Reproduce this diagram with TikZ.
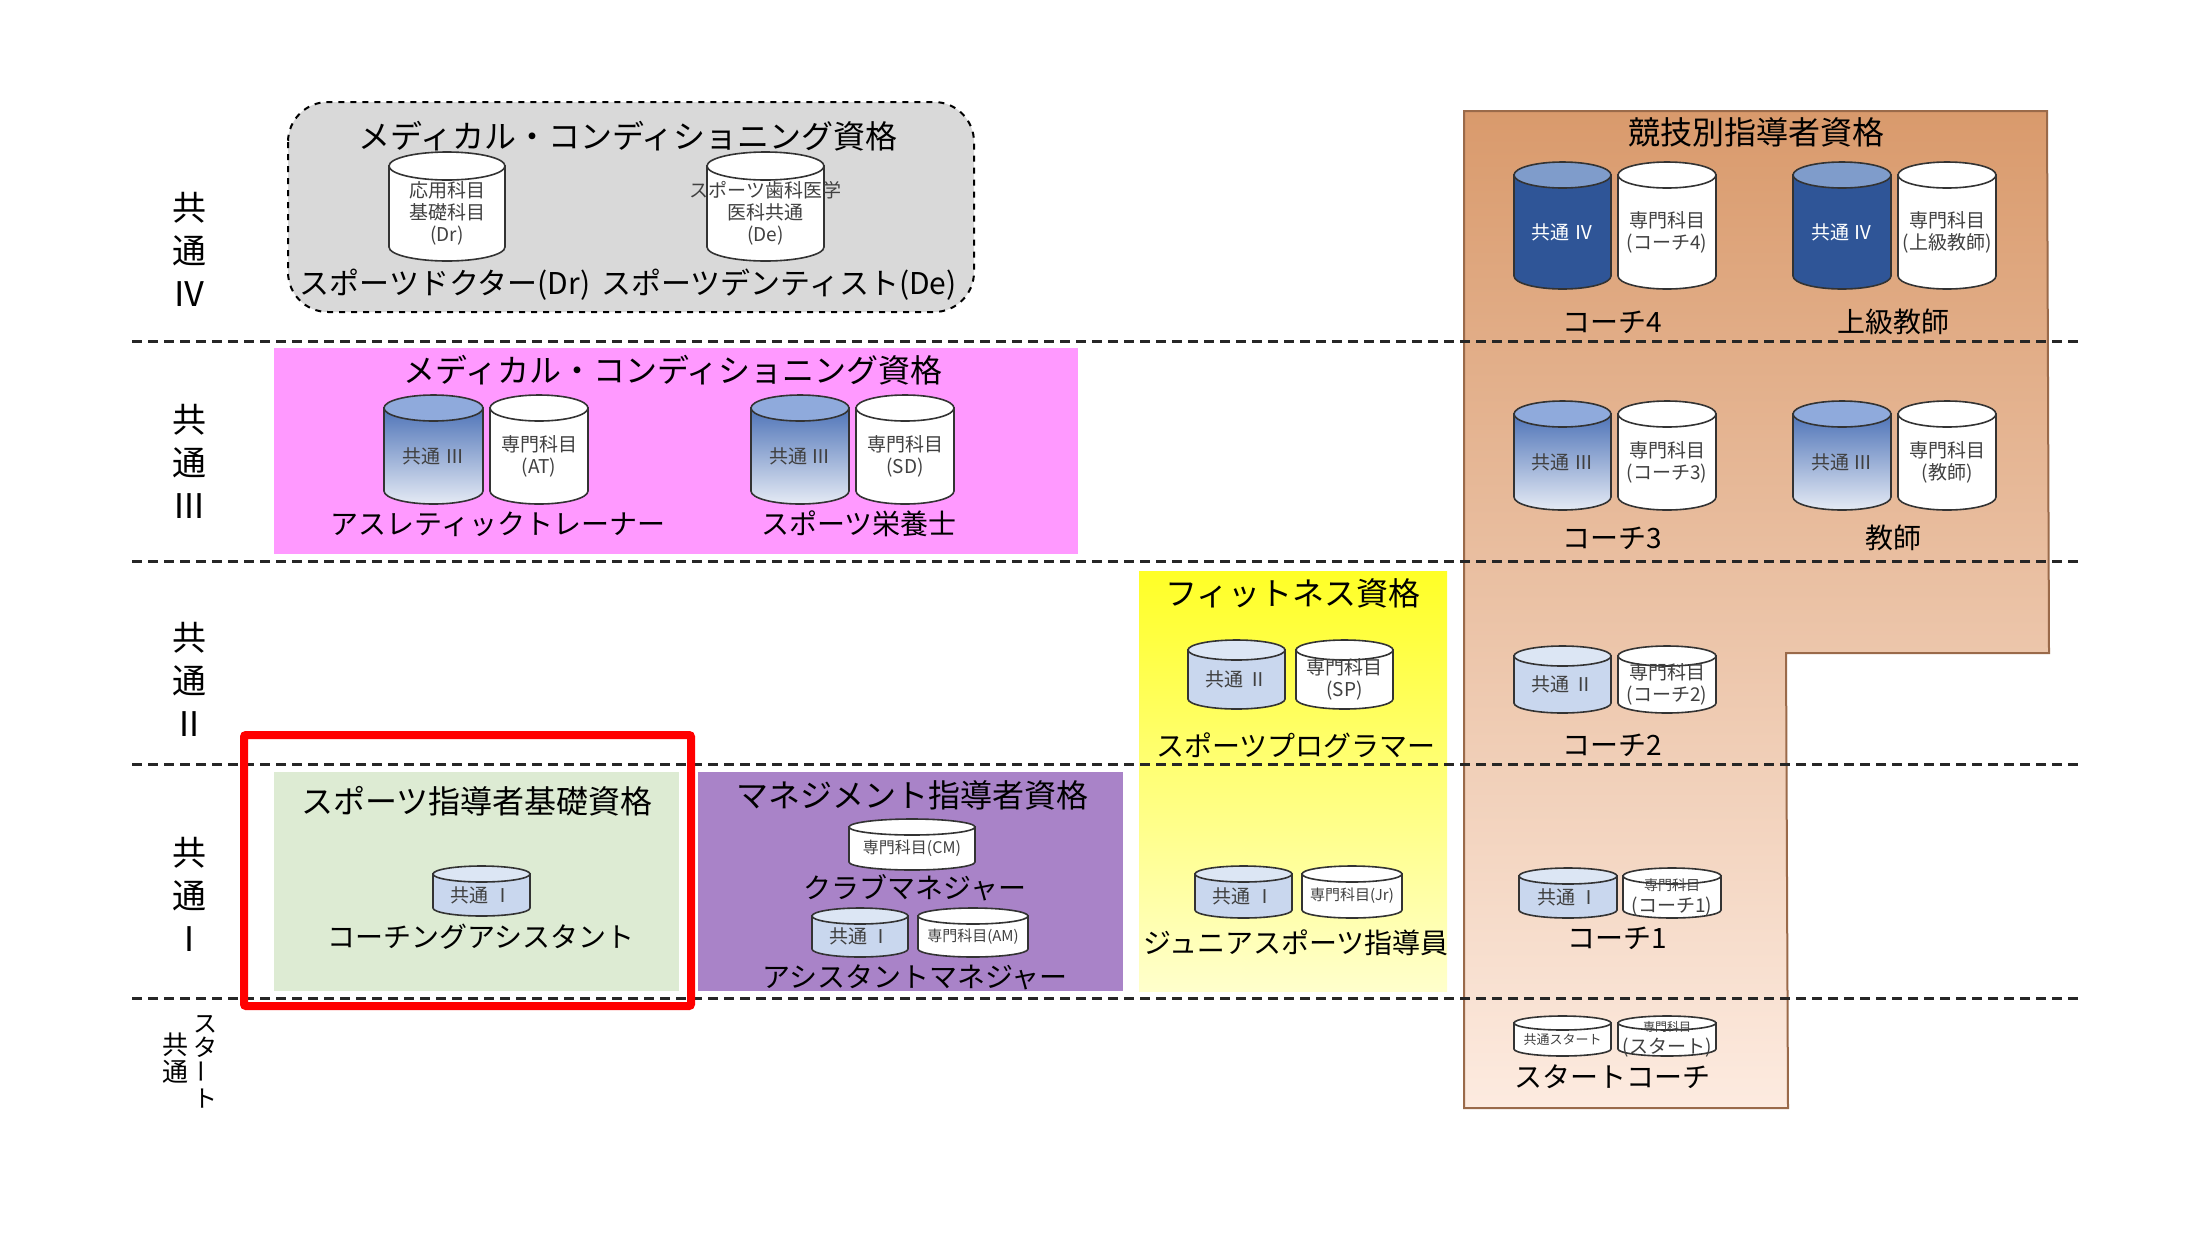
\documentclass[tikz,border=0pt]{standalone}
\usepackage{fontspec}
\setmainfont{Noto Sans CJK JP}
\usepackage{graphicx}
\definecolor{grayf}{HTML}{D9D9D9}
\definecolor{pinkf}{HTML}{FF99FF}
\definecolor{greenf}{HTML}{DDEBD3}
\definecolor{purplef}{HTML}{A983C8}
\definecolor{dblue}{HTML}{2F5597}
\definecolor{dbluetop}{HTML}{7F9CCB}
\definecolor{mblue}{HTML}{4F74B8}
\definecolor{mbluetop}{HTML}{8FAADC}
\definecolor{lblue}{HTML}{C9D7EE}
\definecolor{lbluetop}{HTML}{DCE6F4}
\definecolor{orgtop}{HTML}{D99A6C}
\definecolor{orgbot}{HTML}{FDEBE0}
\definecolor{orgline}{HTML}{9A6A4A}
\newcommand\cyl[9]{%
 \pgfmathsetmacro\cx{(#2+#3)/2}\pgfmathsetmacro\rx{(#3-#2)/2}%
 \pgfmathsetmacro\yt{#4+#6}\pgfmathsetmacro\yb{#5-#6}%
 \path[cylbody,#7] (#2,\yt) -- (#2,\yb) arc[start angle=180,end angle=0,x radius=\rx,y radius=#6] -- (#3,\yt) -- cycle;
 \path[cylbody,#8] (\cx,\yt) ellipse[x radius=\rx,y radius=#6];
 \node[cyltext] (#1) at (\cx,{(\yt+#5)/2}) {#9};}
\tikzset{
 cylbody/.style={draw=black!80,line width=0.8pt,fill=white},
 cyltext/.style={align=center,inner sep=0pt,font=\fontsize{9.5}{11}\selectfont,text=black!75},
 c4/.style={fill=dblue}, c4t/.style={fill=dbluetop},
 c3/.style={top color=mblue,bottom color=white!85!mblue}, c3t/.style={fill=mbluetop},
 c1/.style={fill=lblue}, c1t/.style={fill=lbluetop},
 wt/.style={fill=white},
 title/.style={font=\fontsize{16}{18}\selectfont,inner sep=0pt},
 lab/.style={font=\fontsize{14}{16}\selectfont,inner sep=0pt},
 rowlab/.style={font=\fontsize{17}{21.5}\selectfont,align=center,inner sep=0pt},
 level/.style={dashed,line width=1.5pt,dash pattern=on 5pt off 3pt},
}
\begin{document}
\begin{tikzpicture}[x=0.5pt,y=-0.5pt]
\useasboundingbox (0,0) rectangle (2202,1238);
% boxes
\draw[fill=grayf,dashed,line width=1pt,rounded corners=20pt] (288,102) rectangle (974,312);
\fill[pinkf] (274,348) rectangle (1078,554);
\fill[greenf] (274,772) rectangle (679,991);
\fill[purplef] (698,772) rectangle (1123,991);
\shade[top color=yellow!85,bottom color=yellow!20] (1139,571) rectangle (1447,991);
\shade[top color=orgtop,bottom color=orgbot,draw=orgline,line width=1pt]
 (1464,111) -- (2047,111) -- (2049,653) -- (1786,653) -- (1788,1108) -- (1464,1108) -- cycle;
% level lines
\foreach \yy in {341,561,764,998} \draw[level,black!85] (132,\yy) -- (2082,\yy);
% row labels
\node[rowlab] (r4) at (189,249) {共\\通\\Ⅳ};
\node[rowlab] (r3) at (189,461) {共\\通\\Ⅲ};
\node[rowlab] (r2) at (189,679) {共\\通\\Ⅱ};
\node[rowlab] (r1) at (189,894) {共\\通\\Ⅰ};
\node[rowlab,font=\fontsize{13}{13.5}\selectfont] (rs1) at (175,1058) {共\\通};
\node[rowlab,font=\fontsize{12}{12}\selectfont] (rs2) at (205,1062) {ス\\タ\\\rotatebox{90}{ー}\\ト};
% gray
\node[title] (tg) at (628,136) {メディカル・コンディショニング資格};
\cyl{dr}{389}{505}{152}{261}{14}{wt}{wt}{応用科目\\基礎科目\\(Dr)}
\cyl{de}{707}{824}{152}{261}{14}{wt}{wt}{スポーツ歯科医学\\医科共通\\(De)}
\node[lab,font=\fontsize{15}{17}\selectfont] (ldr) at (445,285) {スポーツドクター(Dr)};
\node[lab,font=\fontsize{15}{17}\selectfont] (lde) at (779,285) {スポーツデンティスト(De)};
% pink
\node[title] (tp) at (673,370) {メディカル・コンディショニング資格};
\cyl{at1}{384}{483}{395}{504}{13}{c3}{c3t}{共通\ Ⅲ}
\cyl{at2}{490}{588}{395}{504}{13}{wt}{wt}{専門科目\\(AT)}
\cyl{sd1}{751}{849}{395}{504}{13}{c3}{c3t}{共通\ Ⅲ}
\cyl{sd2}{856}{954}{395}{504}{13}{wt}{wt}{専門科目\\(SD)}
\node[lab] (lat) at (498,524) {アスレティックトレーナー};
\node[lab] (lsd) at (859,524) {スポーツ栄養士};
% orange
\node[title] (to) at (1756,132) {競技別指導者資格};
\cyl{c41}{1514}{1611}{162}{289}{13}{c4}{c4t}{\textcolor{white}{共通 Ⅳ}}
\cyl{c42}{1618}{1716}{162}{289}{13}{wt}{wt}{専門科目\\(コーチ4)}
\cyl{k41}{1793}{1891}{162}{289}{13}{c4}{c4t}{\textcolor{white}{共通 Ⅳ}}
\cyl{k42}{1898}{1996}{162}{289}{13}{wt}{wt}{専門科目\\(上級教師)}
\node[lab] (lc4) at (1612,322) {コーチ4};
\node[lab] (lk4) at (1893,322) {上級教師};
\cyl{c31}{1514}{1611}{401}{510}{13}{c3}{c3t}{共通\ Ⅲ}
\cyl{c32}{1618}{1716}{401}{510}{13}{wt}{wt}{専門科目\\(コーチ3)}
\cyl{k31}{1793}{1891}{401}{510}{13}{c3}{c3t}{共通\ Ⅲ}
\cyl{k32}{1898}{1996}{401}{510}{13}{wt}{wt}{専門科目\\(教師)}
\node[lab] (lc3) at (1612,538) {コーチ3};
\node[lab] (lk3) at (1893,538) {教師};
\cyl{c21}{1514}{1611}{646}{713}{10}{c1}{c1t}{共通\ Ⅱ}
\cyl{c22}{1618}{1716}{646}{713}{10}{wt}{wt}{専門科目\\(コーチ2)}
\node[lab] (lc2) at (1612,745) {コーチ2};
\cyl{c11}{1519}{1617}{868}{918}{8}{c1}{c1t}{共通\ Ⅰ}
\cyl{c12}{1623}{1721}{868}{918}{8}{wt}{wt}{\fontsize{7}{7.5}\selectfont 専門科目\\(コーチ1)}
\node[lab] (lc1) at (1617,938) {コーチ1};
\cyl{cs1}{1514}{1611}{1016}{1056}{7}{wt}{wt}{\fontsize{6.5}{7}\selectfont 共通スタート}
\cyl{cs2}{1618}{1716}{1016}{1056}{7}{wt}{wt}{\fontsize{6}{6.5}\selectfont 専門科目\\(スタート)}
\node[lab] (lcs) at (1612,1077) {スタートコーチ};
% yellow
\node[title] (ty) at (1293,593) {フィットネス資格};
\cyl{sp1}{1188}{1285}{640}{709}{10}{c1}{c1t}{共通\ Ⅱ}
\cyl{sp2}{1296}{1393}{640}{709}{10}{wt}{wt}{専門科目\\(SP)}
\node[lab] (lsp) at (1296,746) {スポーツプログラマー};
\cyl{jr1}{1195}{1292}{866}{918}{8}{c1}{c1t}{共通\ Ⅰ}
\cyl{jr2}{1302}{1402}{866}{918}{8}{wt}{wt}{\fontsize{7.5}{8}\selectfont 専門科目(Jr)}
\node[lab] (ljr) at (1296,943) {ジュニアスポーツ指導員};
% green
\node[title] (tgr) at (477,801) {スポーツ指導者基礎資格};
\cyl{ca}{433}{530}{866}{916}{8}{c1}{c1t}{共通\ Ⅰ}
\node[lab] (lca) at (481,937) {コーチングアシスタント};
% purple
\node[title] (tpu) at (912,795) {マネジメント指導者資格};
\cyl{cm}{849}{975}{819}{870}{8}{wt}{wt}{\fontsize{8}{9}\selectfont 専門科目(CM)}
\node[lab] (lcm) at (915,888) {クラブマネジャー};
\cyl{am1}{812}{908}{908}{957}{8}{c1}{c1t}{共通\ Ⅰ}
\cyl{am2}{918}{1028}{908}{957}{8}{wt}{wt}{\fontsize{7.5}{8}\selectfont 専門科目(AM)}
\node[lab] (lam) at (915,977) {アシスタントマネジャー};
% red highlight
\draw[red,line width=4pt,rounded corners=1pt] (244,735) rectangle (691,1006);
\end{tikzpicture}
\end{document}
